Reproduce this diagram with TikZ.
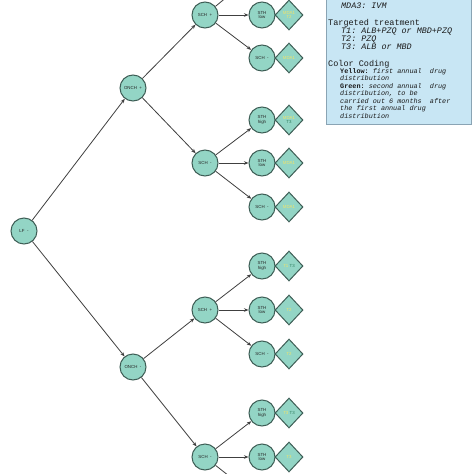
\documentclass[tikz,border=0pt]{standalone}
\usepackage{fontspec}
\setmainfont{Liberation Sans}
\setmonofont{Liberation Mono}
\usetikzlibrary{shapes.geometric,arrows.meta}
\definecolor{nodefill}{HTML}{93D5C5}
\definecolor{nodedraw}{HTML}{3E5E56}
\definecolor{legfill}{HTML}{C8E6F4}
\definecolor{legdraw}{HTML}{8AA4B4}
\definecolor{yel}{HTML}{F2E46A}
\definecolor{grn}{HTML}{2F7F5F}
\tikzset{
  st/.style={circle,draw=nodedraw,fill=nodefill,line width=1pt,minimum size=26pt,inner sep=0pt,
    font=\fontsize{4.4}{4.8}\selectfont,align=center,text=black!85},
  dm/.style={diamond,draw=nodedraw,fill=nodefill,line width=1pt,minimum width=28pt,minimum height=30pt,
    inner sep=0pt,font=\fontsize{4.4}{4.8}\selectfont,align=center},
  ar/.style={-{Stealth[length=4.5pt,width=3.5pt]},draw=black!75,line width=0.8pt},
  lg/.style={anchor=base west,inner sep=0pt,text=black!90},
  lbig/.style={lg,font=\ttfamily\fontsize{8.5}{9}\selectfont},
  lmid/.style={lg,font=\ttfamily\itshape\fontsize{8.4}{9}\selectfont},
  lsml/.style={lg,font=\ttfamily\fontsize{6.8}{7}\selectfont},
}
\begin{document}
\begin{tikzpicture}[x=1pt,y=-1pt]
\clip (0,0) rectangle (474,474);
\fill[white] (0,0) rectangle (474,474);
% legend
\node[draw=legdraw,fill=legfill,line width=0.8pt,minimum width=145pt,minimum height=170pt,inner sep=0pt,anchor=south west] (leg) at (326,124.5) {};
\node[lmid] (l0) at (341,8.5) {MDA3: IVM};
\node[lbig] (l1) at (328,25) {Targeted treatment};
\node[lmid] (l2) at (341,33) {T1: ALB+PZQ or MBD+PZQ};
\node[lmid] (l3) at (341,41) {T2: PZQ};
\node[lmid] (l4) at (341,49) {T3: ALB or MBD};
\node[lbig] (l5) at (328,66.5) {Color Coding};
\node[lsml] (l6) at (340,73) {\textbf{Yellow:} \textit{first annual~ drug}};
\node[lsml] (l7) at (340,80.5) {\textit{distribution}};
\node[lsml] (l8) at (340,88) {\textbf{Green:} \textit{second annual~ drug}};
\node[lsml] (l9) at (340,95.5) {\textit{distribution, to be}};
\node[lsml] (l10) at (340,103) {\textit{carried out 6 months~ after}};
\node[lsml] (l11) at (340,110.5) {\textit{the first annual drug}};
\node[lsml] (l12) at (340,118) {\textit{distribution}};
% tree
\node[st] (lf) at (24,231) {LF~~-};
\node[st] (on1) at (133,88) {ONCH~~+};
\node[st] (on2) at (133,367) {ONCH~~-};
\node[st] (s1) at (205,15) {SCH~~+};
\node[st] (s2) at (205,163) {SCH~~-};
\node[st] (s3) at (205,310) {SCH~~+};
\node[st] (s4) at (205,457) {SCH~~-};
\node[st] (a0) at (262,-32) {};
\node[st] (a1) at (262,15) {STH\\low};
\node[st] (a2) at (262,58) {SCH~~-};
\node[st] (b1) at (262,120) {STH\\high};
\node[st] (b2) at (262,163) {STH\\low};
\node[st] (b3) at (262,207) {SCH~~-};
\node[st] (c1) at (262,266) {STH\\high};
\node[st] (c2) at (262,310) {STH\\low};
\node[st] (c3) at (262,354) {SCH~~-};
\node[st] (e1) at (262,413) {STH\\high};
\node[st] (e2) at (262,457) {STH\\low};
\node[st] (e3) at (262,502) {};
\node[dm] (da0) at (289,-32) {};
\node[dm] (da1) at (289,15) {\textcolor{yel}{MDA1}\\\textcolor{yel}{T2}};
\node[dm] (da2) at (289,58) {\textcolor{yel}{MDA1}};
\node[dm] (db1) at (289,120) {\textcolor{yel}{MDA1}\\\textcolor{grn}{T3}};
\node[dm] (db2) at (289,163) {\textcolor{yel}{MDA1}};
\node[dm] (db3) at (289,207) {\textcolor{yel}{MDA1}};
\node[dm] (dc1) at (289,266) {\textcolor{yel}{T1}~\textcolor{grn}{T3}};
\node[dm] (dc2) at (289,310) {\textcolor{yel}{T2}};
\node[dm] (dc3) at (289,354) {\textcolor{yel}{T2}};
\node[dm] (de1) at (289,413) {\textcolor{yel}{T3}~\textcolor{grn}{T3}};
\node[dm] (de2) at (289,457) {\textcolor{yel}{T3}};
\node[dm] (de3) at (289,502) {};
\foreach \p/\c in {lf/on1,lf/on2,on1/s1,on1/s2,on2/s3,on2/s4,
  s1/a0,s1/a1,s1/a2,s2/b1,s2/b2,s2/b3,s3/c1,s3/c2,s3/c3,s4/e1,s4/e2,s4/e3}
  \draw[ar] (\p) -- (\c);
\end{tikzpicture}
\end{document}
